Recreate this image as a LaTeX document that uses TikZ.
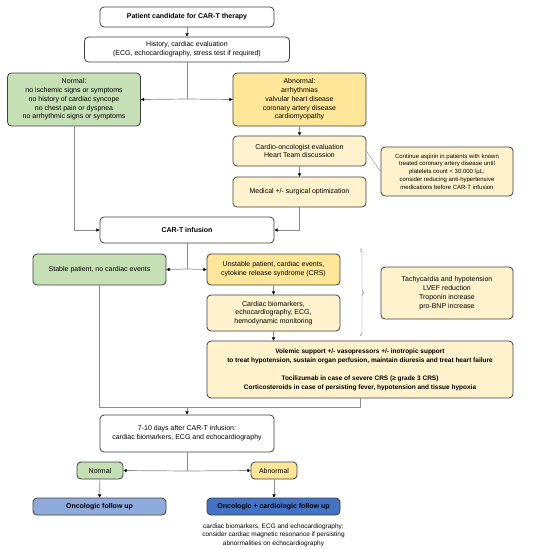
\documentclass[tikz,border=0pt]{standalone}
\usepackage{fontspec}
\setmainfont{Liberation Sans}
\usepackage{tikz}
\usetikzlibrary{arrows.meta,positioning,decorations.pathreplacing}

\definecolor{lightgreen}{HTML}{C5E0B4}
\definecolor{darkyellow}{HTML}{FFE699}
\definecolor{lightyellow}{HTML}{FFF2CC}
\definecolor{lightblue}{HTML}{8FAADC}
\definecolor{midblue}{HTML}{4472C4}
\definecolor{boxline}{HTML}{404040}
\definecolor{linkline}{HTML}{8C8C8C}

\begin{document}
\begin{tikzpicture}[
      x=1pt, y=-1pt,
      box/.style={draw=boxline, line width=0.8pt, rounded corners=4pt, align=center,
      inner sep=0pt, font=\fontsize{7}{8.8}\selectfont},
      note/.style={box, font=\fontsize{6}{7.8}\selectfont},
      flow/.style={draw=linkline, line width=0.7pt,
      -{Triangle[length=3.2pt, width=3.2pt, color=black]}},
      link/.style={draw=linkline, line width=0.7pt}
    ]
    \useasboundingbox (0,0) rectangle (541,550);
    \fill[white] (0,0) rectangle (541,550);
    % pre-treatment work-up
    \node[box, minimum width=174pt, minimum height=20pt, font=\fontsize{7}{8.8}\selectfont\bfseries]
      (start) at (187,17) {Patient candidate for CAR-T therapy};
    \node[box, minimum width=205pt, minimum height=25pt] (history) at (187,49.5)
      {History, cardiac evaluation\\(ECG, echocardiography, stress test if required)};
    \node[box, fill=lightgreen, minimum width=133pt, minimum height=53pt] (normal) at (74,99.5)
      {Normal:\\no ischemic signs or symptoms\\no history of cardiac syncope\\no chest pain or dyspnea\\no arrhythmic signs or symptoms};
    \node[box, fill=darkyellow, minimum width=133pt, minimum height=53pt] (abnormal) at (299.5,99.5)
      {Abnormal:\\arrhythmias\\valvular heart disease\\coronary artery disease\\cardiomyopathy};
    \node[box, fill=lightyellow, minimum width=133pt, minimum height=30pt] (cardio) at (299.5,151)
      {Cardio-oncologist evaluation\\Heart Team discussion};
    \node[box, fill=lightyellow, minimum width=133pt, minimum height=30pt] (optim) at (299.5,192)
      {Medical +/- surgical optimization};
    \node[note, fill=lightyellow, minimum width=132pt, minimum height=49pt] (aspirin) at (447,171.5)
      {Continue aspirin in patients with known\\treated coronary artery disease until\\platelets count < 30.000 /µL;\\consider reducing anti-hypertensive\\medications before CAR-T infusion};
    % infusion and monitoring
    \node[box, minimum width=174pt, minimum height=26pt, font=\fontsize{7}{8.8}\selectfont\bfseries]
      (infusion) at (187,230) {CAR-T infusion};
    \node[box, fill=lightgreen, minimum width=133pt, minimum height=31pt] (stable) at (99.5,269.5)
      {Stable patient, no cardiac events};
    \node[box, fill=darkyellow, minimum width=133pt, minimum height=31pt] (unstable) at (273.5,269.5)
      {Unstable patient, cardiac events,\\cytokine release syndrome (CRS)};
    \node[box, fill=lightyellow, minimum width=133pt, minimum height=36pt] (biomark) at (273.5,313)
      {Cardiac biomarkers,\\echocardiography, ECG,\\hemodynamic monitoring};
    \node[box, fill=lightyellow, minimum width=132pt, minimum height=52pt] (signs) at (447,293)
      {Tachycardia and hypotension\\LVEF reduction\\Troponin increase\\pro-BNP increase};
    \node[box, fill=lightyellow, minimum width=306pt, minimum height=57pt,
      font=\fontsize{6.5}{9}\selectfont\bfseries] (support) at (360,369.5)
      {Volemic support +/- vasopressors +/- inotropic support\\to treat hypotension, sustain organ perfusion, maintain diuresis and treat heart failure\\[9pt]Tocilizumab in case of severe CRS (≥ grade 3 CRS)\\Corticosteroids in case of persisting fever, hypotension and tissue hypoxia};
    % follow up
    \node[box, minimum width=174pt, minimum height=37pt] (days) at (187,433.5)
      {7-10 days after CAR-T infusion:\\cardiac biomarkers, ECG and echocardiography};
    \node[box, fill=lightgreen, minimum width=46pt, minimum height=17pt] (normaltwo) at (100,470.5) {Normal};
    \node[box, fill=darkyellow, minimum width=46pt, minimum height=17pt] (abnormaltwo) at (274,470.5) {Abnormal};
    \node[box, fill=lightblue, minimum width=133pt, minimum height=17pt,
      font=\fontsize{7}{8.8}\selectfont\bfseries] (onco) at (99.5,506.5) {Oncologic follow up};
    \node[box, fill=midblue, minimum width=133pt, minimum height=17pt,
      font=\fontsize{7}{8.8}\selectfont\bfseries] (oncocardio) at (273.5,506.5) {Oncologic + cardiologic follow up};
    \node[align=center, inner sep=0pt, font=\fontsize{6.5}{8.6}\selectfont, below=8pt of oncocardio]
      (followtext) {cardiac biomarkers, ECG and echocardiography;\\consider cardiac magnetic resonance if persisting\\abnormalities on echocardiography};
    % junctions
    \coordinate (splitone) at (187,99);
    \coordinate (splittwo) at (187,269);
    \coordinate (mergeone) at (187,407);
    \coordinate (splitthree) at (187,471);
    % connectors
    \draw[flow] (start) -- (history);
    \draw[link] (history) -- (splitone);
    \draw[flow] (splitone) -- (normal.east);
    \draw[flow] (splitone) -- (abnormal.west);
    \draw[flow] (abnormal) -- (cardio);
    \draw[flow] (cardio) -- (optim);
    \draw[link, line width=0.4pt] (cardio.east) -- (aspirin.west);
    \draw[flow] (normal.south) |- (infusion.west);
    \draw[flow] (optim.south) |- (infusion.east);
    \draw[link] (infusion) -- (splittwo);
    \draw[flow] (splittwo) -- (stable.east);
    \draw[flow] (splittwo) -- (unstable.west);
    \draw[flow] (unstable) -- (biomark);
    \draw[flow] (biomark) -- (biomark |- support.north);
    \draw[link, line width=0.4pt, decorate, decoration={brace, amplitude=4pt}]
      (360,249) -- (360,336);
    \draw[link] (stable.south) |- (support.south |- mergeone) -- (support.south);
    \draw[flow] (mergeone) -- (days);
    \draw[link] (days) -- (splitthree);
    \draw[flow] (splitthree) -- (normaltwo.east);
    \draw[flow] (splitthree) -- (abnormaltwo.west);
    \draw[flow] (normaltwo) -- (onco);
    \draw[flow] (abnormaltwo) -- (abnormaltwo |- oncocardio.north);
  \end{tikzpicture}
\end{document}
